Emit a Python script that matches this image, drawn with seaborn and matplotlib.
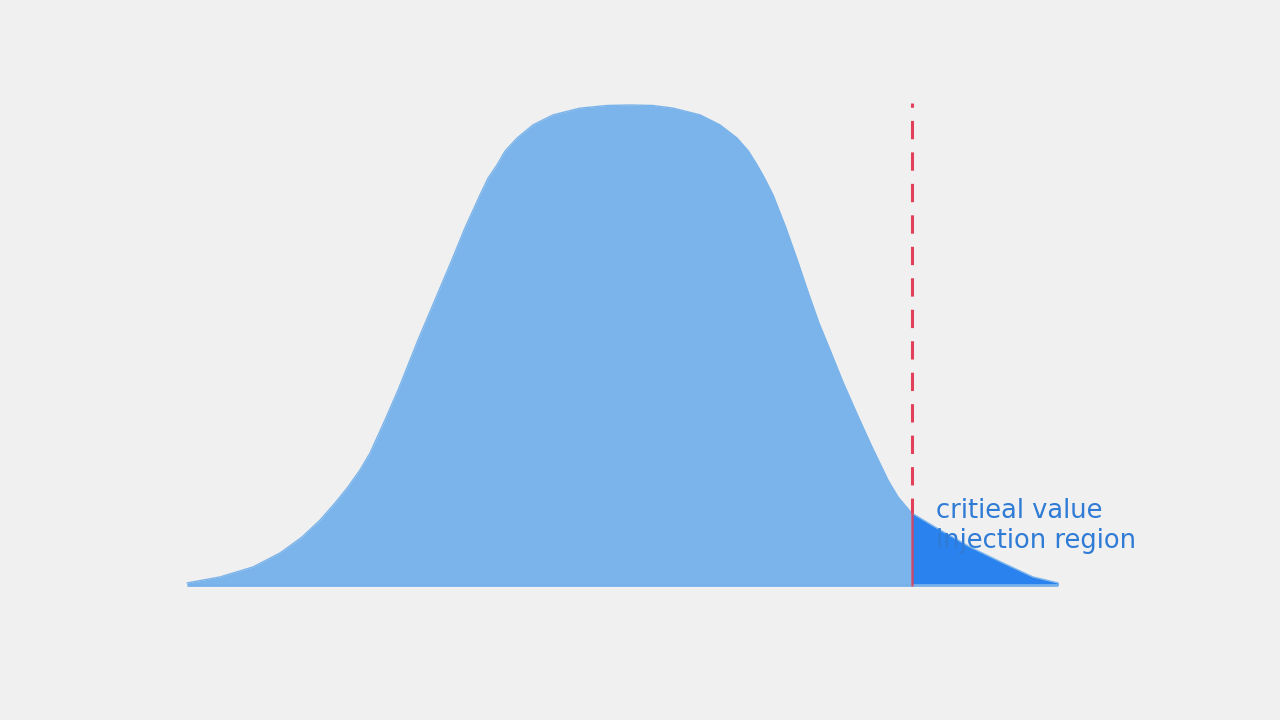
import numpy as np
import pandas as pd
import matplotlib
matplotlib.use("Agg")
import matplotlib.pyplot as plt
import seaborn as sns

# values (z-score, density)
z_values = [-2.92, -2.70, -2.48, -2.30, -2.153, -2.033, -1.933, -1.847, -1.767, -1.70,
            -1.60, -1.513, -1.38, -1.253, -1.16, -1.067, -0.967, -0.913, -0.853, -0.80,
            -0.72, -0.613, -0.48, -0.30, -0.12, 0.033, 0.187, 0.32, 0.50, 0.633,
            0.747, 0.823, 0.88, 0.93, 0.987, 1.073, 1.153, 1.227, 1.293, 1.367,
            1.453, 1.547, 1.647, 1.753, 1.82, 1.91, 2.10, 2.30, 2.52, 2.72,
            2.887]
density = [0.0017, 0.0067, 0.0150, 0.0266, 0.0399, 0.0540, 0.0682, 0.0815, 0.0956, 0.1097,
           0.1372, 0.1621, 0.2037, 0.2411, 0.2685, 0.2968, 0.3242, 0.3382, 0.3493, 0.3607,
           0.3715, 0.3825, 0.3908, 0.3964, 0.3986, 0.3990, 0.3986, 0.3964, 0.3908, 0.3825,
           0.3715, 0.3607, 0.3493, 0.3382, 0.3242, 0.2968, 0.2685, 0.2411, 0.2178, 0.1953,
           0.1687, 0.1421, 0.1147, 0.0873, 0.0732, 0.0599, 0.0457, 0.0316, 0.0183, 0.0067,
           0.0017]
critical_value = 1.91
line_top = 0.4007
labels = ["critieal value", "injection region"]

df = pd.DataFrame({"z": z_values, "density": density})

sns.set_theme(style="white")
plt.rcParams["font.family"] = ["DejaVu Sans"]

bg = "#f0f0f0"
fig = plt.figure(figsize=(12.8, 7.2), dpi=100, facecolor=bg)
ax = fig.add_axes([0, 0, 1, 1])
ax.set_facecolor(bg)

light = "#7bb4ea"
dark = "#2a82ee"

ax.fill_between(df["z"], 0, df["density"], color=light, linewidth=0)
rej = df[df["z"] >= critical_value]
ax.fill_between(rej["z"], 0, rej["density"], color=dark, linewidth=0)
sns.lineplot(data=df, x="z", y="density", ax=ax, color=light, linewidth=1.0,
             estimator=None, sort=True)
# baseline
ax.plot([df["z"].min(), df["z"].max()], [0, 0], color="#78b0ea", linewidth=2.0,
        solid_capstyle="butt")

# critical value line
cv_h = float(rej["density"].iloc[0])
ax.plot([critical_value, critical_value], [line_top, cv_h], color="#e2405a",
        linewidth=2.2, linestyle=(4.6, (6, 4.3)))
ax.plot([critical_value, critical_value], [0, cv_h], color="#e2405a",
        linewidth=1.8, alpha=0.85)

ax.text(critical_value + 0.165, 0.0557, labels[0], color="#2f7bd6",
        fontsize=18.5, va="baseline", ha="left")
ax.text(critical_value + 0.165, 0.0308, labels[1], color="#2f7bd6",
        fontsize=18.5, va="baseline", ha="left")

ax.set_xlim(-625 / 150, 655 / 150)
ax.set_ylim(-135 / 480 * 0.399, 585 / 480 * 0.399)
ax.set_axis_off()
ax.set_xlabel("")
ax.set_ylabel("")

fig.savefig("out.png", dpi=100, facecolor=bg)
